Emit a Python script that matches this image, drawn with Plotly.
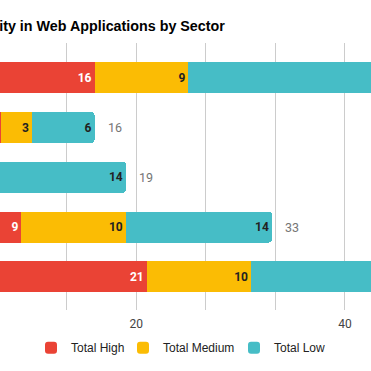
import plotly.graph_objects as go

sectors = ["Finance", "Healthcare", "Retail", "Government", "Education"]
total_high = [16, 7, 3, 9, 21]
total_medium = [9, 3, 2, 10, 10]
total_low = [23, 6, 14, 14, 14]
totals = [h + m + l for h, m, l in zip(total_high, total_medium, total_low)]

title_text = "Vulnerability Severity in Web Applications by Sector"
tick_vals = [0, 20, 40, 60]
tick_text = ["0", "20", "40", "60"]

series = ["Total High", "Total Medium", "Total Low"]
colors = {"Total High": "#ea4335", "Total Medium": "#fbbc04", "Total Low": "#46bdc6"}
label_colors = {"Total High": "#ffffff", "Total Medium": "#222222", "Total Low": "#222222"}
legend_ids = {"Total High": "legend", "Total Medium": "legend2", "Total Low": "legend3"}
legend_x_px = {"Total High": 31, "Total Medium": 123, "Total Low": 234}

fig = go.Figure()
for name, vals in zip(series, [total_high, total_medium, total_low]):
    fig.add_trace(go.Bar(
        y=sectors, x=vals, name=name, orientation="h",
        marker=dict(color=colors[name], line=dict(width=0)),
        text=[str(v) for v in vals], textposition="inside", insidetextanchor="end",
        textfont=dict(family="Roboto", size=12, color=label_colors[name], weight="bold"),
        width=0.623, cliponaxis=True, legend=legend_ids[name],
    ))

for s, t in zip(sectors, totals):
    fig.add_annotation(x=t, y=s, text=str(t), showarrow=False, xanchor="left",
                       xshift=11, font=dict(family="Roboto", size=12.5, color="#757575"))

fig.add_annotation(xref="paper", yref="paper", x=227 / 371, y=(310 - 26) / 267,
                   text="<b>" + title_text + "</b>", showarrow=False,
                   xanchor="right", yanchor="middle",
                   font=dict(family="Liberation Sans, Arial", size=14.3, color="#000000"))

legend_common = dict(orientation="h", yanchor="top", y=-0.087, borderwidth=0,
                     bgcolor="rgba(0,0,0,0)", xanchor="left",
                     font=dict(family="Liberation Sans, Arial", size=12, color="#222222"),
                     itemclick=False)
layout_legends = {}
for name in series:
    layout_legends[legend_ids[name]] = dict(legend_common, x=legend_x_px[name] / 371)

fig.update_layout(
    width=371, height=371, barmode="stack", barcornerradius=3,
    margin=dict(l=0, r=0, t=43, b=61),
    paper_bgcolor="white", plot_bgcolor="white",
    showlegend=True,
    xaxis=dict(range=[6.94, 42.5], tickvals=tick_vals, ticktext=tick_text,
               showgrid=True, gridcolor="#cccccc", gridwidth=1, zeroline=False,
               tickfont=dict(family="Roboto", size=12, color="#444444"),
               ticklabelstandoff=5,
               minor=dict(dtick=20 / 3, showgrid=True, gridcolor="#cccccc", gridwidth=1),
               ticks="", fixedrange=True),
    yaxis=dict(range=[4.667, -0.70], showticklabels=False, showgrid=False, zeroline=False,
               ticks="", fixedrange=True),
    **layout_legends,
)

fig.write_html("out.html", config={"displayModeBar": False},
               post_script="document.body.style.margin='0';document.body.style.overflow='hidden';")
